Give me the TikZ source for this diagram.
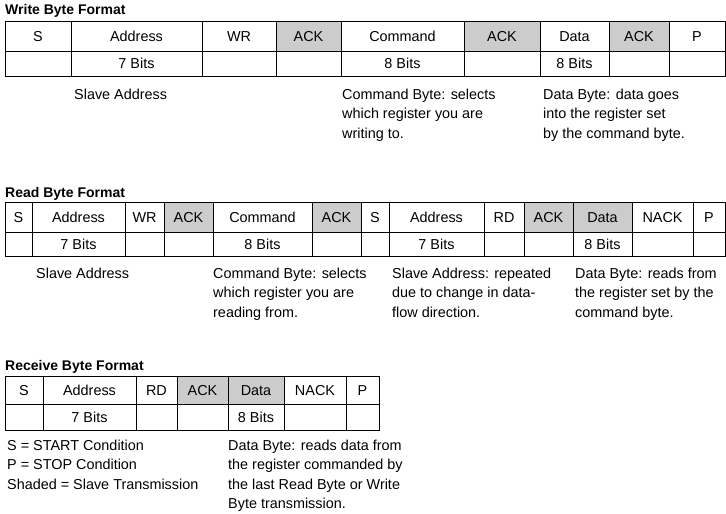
\documentclass[tikz,border=0pt]{standalone}
\usepackage{fontspec}
\setmainfont{Liberation Sans}
\definecolor{ackgrey}{RGB}{204,204,204}
\begin{document}
\begin{tikzpicture}[x=1pt,y=-1pt,
  cell/.style={draw=black, line width=1pt, inner sep=0pt, outer sep=0pt,
    text height=10.3pt, text depth=0pt, font=\fontsize{14.4}{19.5}\selectfont},
  title/.style={font=\fontsize{14}{16}\selectfont\bfseries, anchor=base west, inner sep=0pt},
  note/.style={font=\fontsize{14.4}{19.5}\selectfont, anchor=base west, inner sep=0pt}]
\useasboundingbox[fill=white] (0,0) rectangle (726,514);

% ---------- Write Byte Format ----------
\node[title] (wtitle) at (5,15) {Write Byte Format};
\foreach \a/\b/\t/\f [count=\i] in {5/71/S/white,71/202/Address/white,202/276/WR/white,276/341/ACK/ackgrey,341/464/Command/white,464/540/ACK/ackgrey,540/609/Data/white,609/669/ACK/ackgrey,669/725/P/white}
  \node[cell, fill=\f, minimum width={(\b-\a)*1pt}, minimum height=30pt] (wt\i) at ({(\a+\b)/2},36) {\t};
\foreach \a/\b/\t [count=\i] in {5/71/{},71/202/7 Bits,202/276/{},276/341/{},341/464/8 Bits,464/540/{},540/609/8 Bits,609/669/{},669/725/{}}
  \node[cell, minimum width={(\b-\a)*1pt}, minimum height=25pt] (wb\i) at ({(\a+\b)/2},63.5) {\t};
\node[note] (wn1) at (74,99) {Slave Address};
\node[note] (wn2) at (342,99) {\vtop{\hbox{Command Byte: selects}\hbox{which register you are}\hbox{writing to.}}};
\node[note] (wn3) at (543,99) {\vtop{\hbox{Data Byte: data goes}\hbox{into the register set}\hbox{by the command byte.}}};

% ---------- Read Byte Format ----------
\node[title] (rtitle) at (5,197) {Read Byte Format};
\foreach \a/\b/\t/\f [count=\i] in {5/32/S/white,32/125/Address/white,125/164/WR/white,164/213/ACK/ackgrey,213/312/Command/white,312/361/ACK/ackgrey,361/389/S/white,389/484/Address/white,484/524/RD/white,524/573/ACK/ackgrey,573/632/Data/ackgrey,632/693/NACK/white,693/725/P/white}
  \node[cell, fill=\f, minimum width={(\b-\a)*1pt}, minimum height=30pt] (rt\i) at ({(\a+\b)/2},217) {\t};
\foreach \a/\b/\t [count=\i] in {5/32/{},32/125/7 Bits,125/164/{},164/213/{},213/312/8 Bits,312/361/{},361/389/{},389/484/7 Bits,484/524/{},524/573/{},573/632/8 Bits,632/693/{},693/725/{}}
  \node[cell, minimum width={(\b-\a)*1pt}, minimum height=24pt] (rb\i) at ({(\a+\b)/2},244) {\t};
\node[note] (rn1) at (36,278) {Slave Address};
\node[note] (rn2) at (213,278) {\vtop{\hbox{Command Byte: selects}\hbox{which register you are}\hbox{reading from.}}};
\node[note] (rn3) at (392,278) {\vtop{\hbox{Slave Address: repeated}\hbox{due to change in data-}\hbox{flow direction.}}};
\node[note] (rn4) at (575,278) {\vtop{\hbox{Data Byte: reads from}\hbox{the register set by the}\hbox{command byte.}}};

% ---------- Receive Byte Format ----------
\node[title] (ctitle) at (5,370) {Receive Byte Format};
\foreach \a/\b/\t/\f [count=\i] in {5/43/S/white,43/136/Address/white,136/177/RD/white,177/228/ACK/ackgrey,228/284/Data/ackgrey,284/346/NACK/white,346/379/P/white}
  \node[cell, fill=\f, minimum width={(\b-\a)*1pt}, minimum height=28pt] (ct\i) at ({(\a+\b)/2},390) {\t};
\foreach \a/\b/\t [count=\i] in {5/43/{},43/136/7 Bits,136/177/{},177/228/{},228/284/8 Bits,284/346/{},346/379/{}}
  \node[cell, minimum width={(\b-\a)*1pt}, minimum height=26pt] (cb\i) at ({(\a+\b)/2},417) {\t};
\node[note] (cn1) at (7,450) {\vtop{\hbox{S = START Condition}\hbox{P = STOP Condition}\hbox{Shaded = Slave Transmission}}};
\node[note] (cn2) at (228,450) {\vtop{\hbox{Data Byte: reads data from}\hbox{the register commanded by}\hbox{the last Read Byte or Write}\hbox{Byte transmission.}}};
\end{tikzpicture}
\end{document}
